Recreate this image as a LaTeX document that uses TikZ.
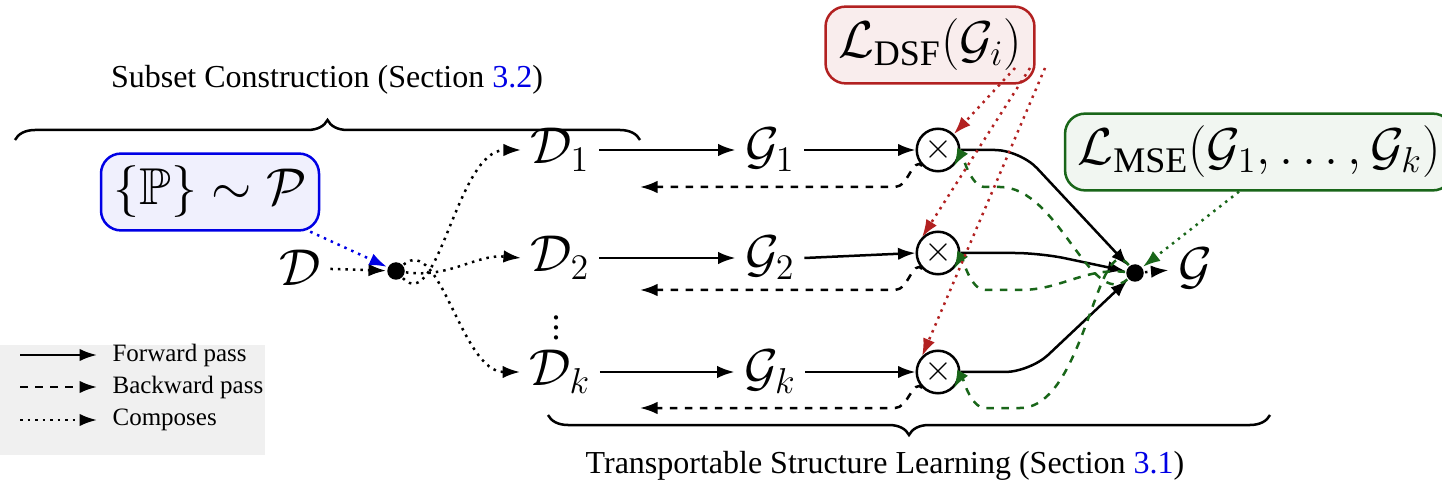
\documentclass[tikz,border=0pt]{standalone}
\usepackage{amsmath,amssymb}
\usepackage{fontspec}
\setmainfont{Liberation Serif}
\usetikzlibrary{arrows.meta,decorations.pathreplacing}
\definecolor{lnk}{rgb}{0,0,0.9}
\definecolor{dsfred}{rgb}{0.7,0.13,0.13}
\definecolor{msegreen}{rgb}{0.1,0.4,0.1}
\tikzset{every picture/.style={line width=1pt}}
\tikzset{
  fwd/.style={-{Latex[length=7pt,width=5pt]}},
  bwd/.style={-{Latex[length=7pt,width=5pt]},dashed},
  cmp/.style={-{Latex[length=7pt,width=5pt]},dotted},
  mul/.style={circle,draw,minimum size=17pt,inner sep=0pt,font=\Large},
  junc/.style={circle,fill,inner sep=0pt,minimum size=7pt},
  sym/.style={font=\huge},
  lossbox/.style={draw,rounded corners=8pt,line width=1pt,inner sep=5pt,font=\huge},
  brlabel/.style={font=\fontsize{12.8}{15}\selectfont},
}
\begin{document}
\begin{tikzpicture}[x=0.4pt,y=0.4pt,yscale=-1,xscale=1]
  \useasboundingbox (0,0) rectangle (1442,486);

  %legend
  \fill[gray!12] (0,345) rectangle (265,455);
  \coordinate (l1a) at (20,355); \coordinate (l1b) at (97,355);
  \coordinate (l2a) at (20,387); \coordinate (l2b) at (97,387);
  \coordinate (l3a) at (20,420); \coordinate (l3b) at (97,420);
  \draw[fwd] (l1a) -- (l1b);
  \draw[bwd] (l2a) -- (l2b);
  \draw[cmp] (l3a) -- (l3b);
  \node[anchor=west] (t1) at (103,355) {Forward pass};
  \node[anchor=west] (t2) at (103,387) {Backward pass};
  \node[anchor=west] (t3) at (103,420) {Composes};

  %nodes
  \node[sym] (D) at (300,268) {$\mathcal{D}$};
  \node[junc] (sp) at (396,271) {};
  \node[sym] (D1) at (560,150) {$\mathcal{D}_1$};
  \node[sym] (D2) at (560,258) {$\mathcal{D}_2$};
  \node[sym] (Dk) at (560,372) {$\mathcal{D}_k$};
  \node[font=\Large] (dots) at (556,320) {$\vdots$};
  \node[sym] (G1) at (770,150) {$\mathcal{G}_1$};
  \node[sym] (G2) at (770,258) {$\mathcal{G}_2$};
  \node[sym] (Gk) at (770,372) {$\mathcal{G}_k$};
  \node[mul] (o1) at (938,150) {$\times$};
  \node[mul] (o2) at (938,253) {$\times$};
  \node[mul] (ok) at (938,372) {$\times$};
  \node[junc] (bd) at (1135,273) {};
  \node[sym] (G) at (1195,268) {$\mathcal{G}$};

  \node[lossbox,draw=lnk,fill=lnk!6] (P) at (210,192) {$\{\mathbb{P}\}\sim\mathcal{P}$};
  \node[lossbox,draw=dsfred,fill=dsfred!8] (dsf) at (930,45) {$\mathcal{L}_{\text{DSF}}(\mathcal{G}_i)$};
  \node[lossbox,draw=msegreen,fill=msegreen!6] (mse) at (1259,152) {$\mathcal{L}_{\text{MSE}}(\mathcal{G}_1,\ldots,\mathcal{G}_k)$};

  %composition
  \draw[cmp] (D) -- (sp);
  \draw[cmp] (sp) to[out=55,in=180] (D1.west);
  \draw[cmp] (sp) to[out=12,in=185] (D2.west);
  \draw[cmp] (sp) to[out=-50,in=180] (Dk.west);
  \draw[cmp,lnk] (P.south east) ++(-10,0) -- (sp);
  \draw[cmp] (bd) -- (G);

  %forward and backward
  \foreach \d/\g/\o/\y in {D1/G1/o1/187,D2/G2/o2/290,Dk/Gk/ok/408}{
    \draw[fwd] (\d.east) -- (\g.west);
    \draw[fwd] (\g.east) -- (\o.west);
    \draw[bwd] (\o.south west) to[out=225,in=0] (895,\y) -- (640,\y);
  }
  \draw[fwd,rounded corners=10pt] (o1.east) -- (1020,150) -- (bd);
  \draw[fwd,rounded corners=10pt] (o2.east) -- (1040,253) -- (bd);
  \draw[fwd,rounded corners=10pt] (ok.east) -- (1030,372) -- (bd);

  %losses
  \draw[bwd,msegreen] (bd) to[out=130,in=0] (1000,187) -- (985,187) to[out=180,in=-60] (o1.south east);
  \draw[bwd,msegreen] (bd) to[out=190,in=0] (1020,290) -- (985,290) to[out=180,in=-60] (o2.south east);
  \draw[bwd,msegreen] (bd) to[out=-120,in=0] (1020,408) -- (985,408) to[out=180,in=-60] (ok.south east);
  \draw[cmp,dsfred] (1015,68) -- (o1.north east);
  \draw[cmp,dsfred] (1030,68) -- (o2.north west);
  \draw[cmp,dsfred] (1045,68) -- (ok.north west);
  \draw[cmp,msegreen] (mse.south) ++(-20,0) -- (bd);

  %braces
  \draw[decorate,decoration={brace,amplitude=8pt}] (15,140) -- (640,140);
  \node[brlabel] (sc) at (327,80) {Subset Construction (Section \textcolor{lnk}{3.2})};
  \draw[decorate,decoration={brace,amplitude=8pt,mirror}] (548,415) -- (1270,415);
  \node[brlabel] (tsl) at (885,466) {Transportable Structure Learning (Section \textcolor{lnk}{3.1})};
\end{tikzpicture}
\end{document}
